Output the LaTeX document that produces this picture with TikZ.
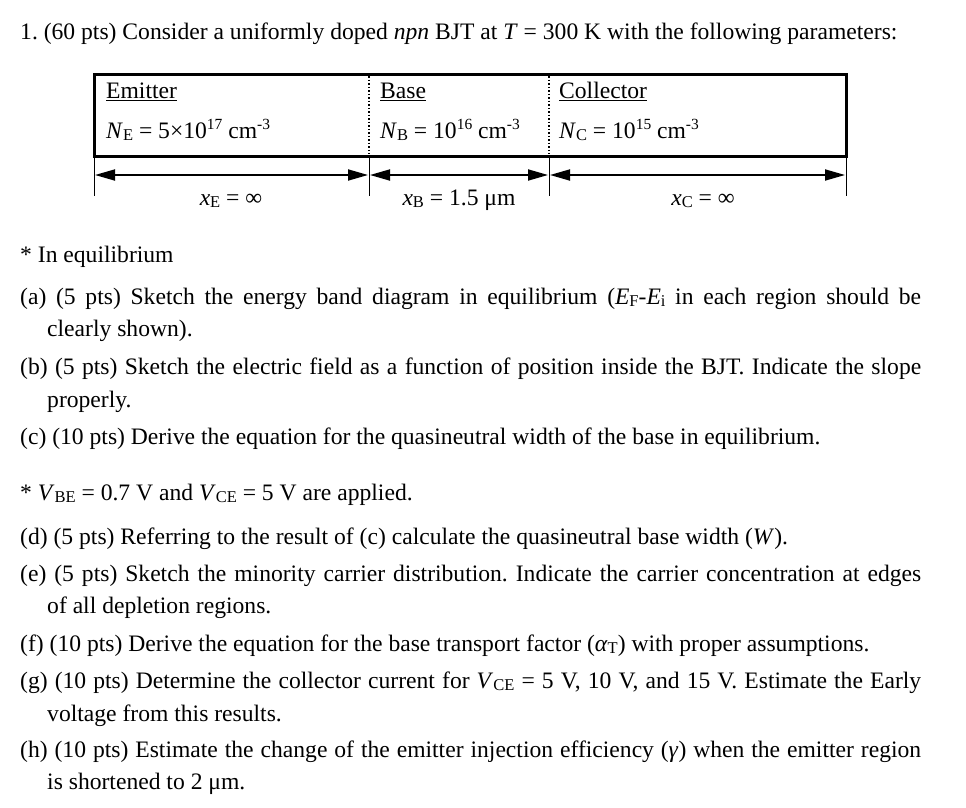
\documentclass[tikz,border=0pt]{standalone}
\usepackage{fontspec}
\setmainfont{Liberation Serif}
\usetikzlibrary{arrows.meta}
\frenchspacing
\newcommand\lsub[1]{\raisebox{-0.2ex}{\fontsize{16.5}{16.5}\selectfont #1}}
\newcommand\spp[1]{\raisebox{0.75ex}{\fontsize{15.5}{15.5}\selectfont #1}}
\begin{document}
\begin{tikzpicture}[x=1pt,y=-1pt,
  txt/.style={anchor=base west,inner sep=0pt,font=\fontsize{23.6}{28}\selectfont},
  dim/.style={line width=1.8pt,{Triangle[length=20pt,width=11pt]}-{Triangle[length=20pt,width=11pt]}, shorten <=1pt, shorten >=1pt}]
\useasboundingbox (0,0) rectangle (966,808);
\node[txt] (t1) at (20,40) {1. (60 pts) Consider a uniformly doped \textit{npn} BJT at \textit{T} = 300 K with the following parameters:};
\draw[line width=3pt] (94,74) rectangle (846,156);
\draw[dotted,line width=1.5pt] (369,76) -- (369,154);
\draw[dotted,line width=1.5pt] (549,76) -- (549,154);
\node[txt] (em) at (106,99) {\underline{Emitter}};
\node[txt] (ba) at (380,99) {\underline{Base}};
\node[txt] (co) at (559,99) {\underline{Collector}};
\node[txt] (ne) at (106,138) {\textit{N}\lsub{E} = 5×10\spp{17} cm\spp{-3}};
\node[txt] (nb) at (380,138) {\textit{N}\lsub{B} = 10\spp{16} cm\spp{-3}};
\node[txt] (nc) at (559,138) {\textit{N}\lsub{C} = 10\spp{15} cm\spp{-3}};
\foreach \x/\n in {94/a,369/b,549/c,846/d}{
  \coordinate (\n1) at (\x,156); \coordinate (\n2) at (\x,196);
  \draw[line width=0.6pt] (\n1) -- (\n2);
  \coordinate (\n) at (\x,175);}
\draw[dim] (a) -- (b);
\draw[dim] (b) -- (c);
\draw[dim] (c) -- (d);
\node[txt,anchor=base] (xe) at (231,205) {\textit{x}\lsub{E} = ∞};
\node[txt,anchor=base] (xb) at (459,205) {\textit{x}\lsub{B} = 1.5 μm};
\node[txt,anchor=base] (xc) at (703,205) {\textit{x}\lsub{C} = ∞};
\node[txt] (s1) at (20,262) {* In equilibrium};
\node[txt] (a1) at (20,305) {\parbox{901pt}{\parfillskip=0pt (a) (5 pts) Sketch the energy band diagram in equilibrium (\textit{E}\lsub{F}-\textit{E}\lsub{i} in each region should be}};
\node[txt] (a2) at (47,336) {clearly shown).};
\node[txt] (b1) at (20,375) {\parbox{901pt}{\parfillskip=0pt (b) (5 pts) Sketch the electric field as a function of position inside the BJT. Indicate the slope}};
\node[txt] (b2) at (47,407) {properly.};
\node[txt] (c1) at (20,444) {(c) (10 pts) Derive the equation for the quasineutral width of the base in equilibrium.};
\node[txt] (s2) at (20,500) {* \textit{V}\lsub{BE} = 0.7 V and \textit{V}\lsub{CE} = 5 V are applied.};
\node[txt] (d1) at (20,544) {(d) (5 pts) Referring to the result of (c) calculate the quasineutral base width (\textit{W}).};
\node[txt] (e1) at (20,582) {\parbox{901pt}{\parfillskip=0pt (e) (5 pts) Sketch the minority carrier distribution. Indicate the carrier concentration at edges}};
\node[txt] (e2) at (47,613) {of all depletion regions.};
\node[txt] (f1) at (20,651) {(f) (10 pts) Derive the equation for the base transport factor (\textit{α}\lsub{T}) with proper assumptions.};
\node[txt] (g1) at (20,689) {\parbox{901pt}{\parfillskip=0pt (g) (10 pts) Determine the collector current for \textit{V}\lsub{CE} = 5 V, 10 V, and 15 V. Estimate the Early}};
\node[txt] (g2) at (47,721) {voltage from this results.};
\node[txt] (h1) at (20,758) {\parbox{901pt}{\parfillskip=0pt (h) (10 pts) Estimate the change of the emitter injection efficiency (\textit{γ}) when the emitter region}};
\node[txt] (h2) at (47,789) {is shortened to 2 μm.};
\end{tikzpicture}
\end{document}
